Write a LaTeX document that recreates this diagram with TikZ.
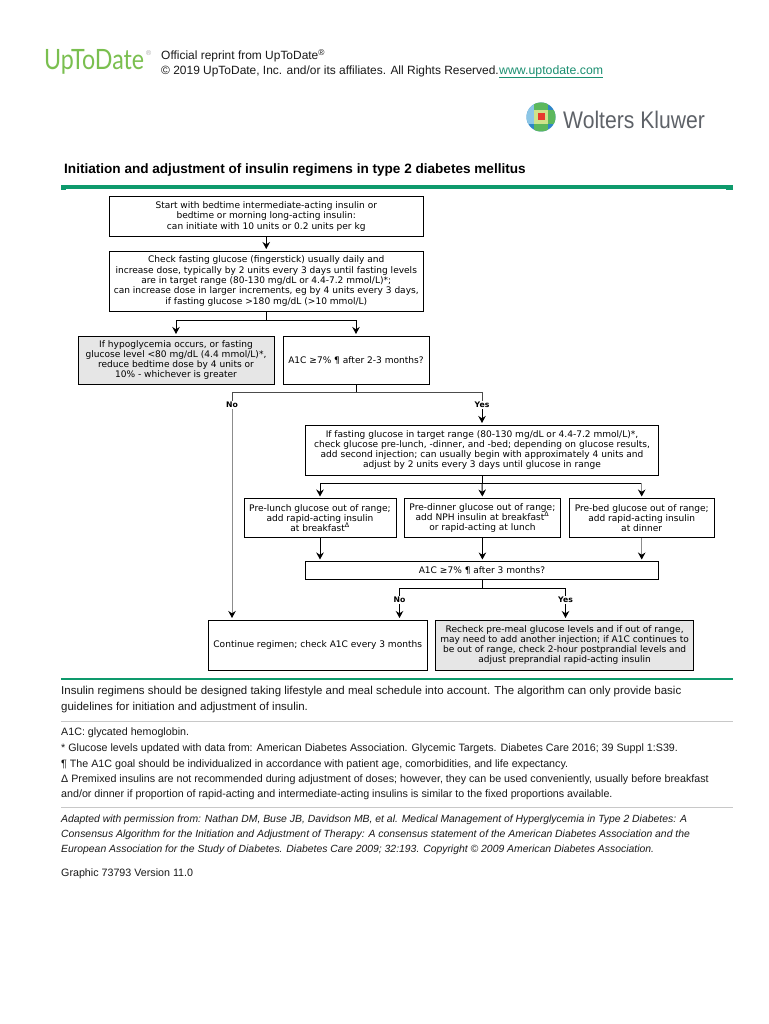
\documentclass[tikz,border=0pt]{standalone}
\usepackage{graphicx}
\usepackage{fontspec}
\setmainfont{Liberation Sans}
\newfontfamily\flowfont{DejaVu Sans}
\newfontfamily\logofont{Lato}
\usetikzlibrary{arrows.meta,calc}
\definecolor{utdgreen}{HTML}{0E9A6C}
\definecolor{logogreen}{HTML}{7ABF4F}
\definecolor{linkgreen}{HTML}{1A8F70}
\definecolor{boxgray}{HTML}{E6E6E6}
\definecolor{rulegray}{HTML}{C8C8C8}
\definecolor{wkgray}{HTML}{5E6268}
\definecolor{wkblue}{HTML}{2F86C6}
\definecolor{wksky}{HTML}{8CC6E6}
\definecolor{wkgreen}{HTML}{5CB85C}
\definecolor{wklime}{HTML}{CFE38A}
\definecolor{wkred}{HTML}{E8392E}
\newcommand{\deltamark}{\smash{\textsuperscript{Δ}}}
\tikzset{
  flowbox/.style={draw=black,line width=1pt,fill=white,align=center,inner sep=0pt,text=black,font=\flowfont\fontsize{9.05}{10.3}\selectfont},
  graybox/.style={flowbox,fill=boxgray},
  flowlabel/.style={inner sep=1pt,font=\flowfont\bfseries\fontsize{7.7}{9}\selectfont},
  conn/.style={draw=black,line width=1pt},
  arrowconn/.style={conn,-{Stealth[black,length=7pt,width=7.5pt]},shorten >=1.5pt},
  grayarrow/.style={arrowconn,draw=gray!90},
  bodytext/.style={anchor=west,inner sep=0pt,text=black!90,font=\fontsize{10.7}{12}\selectfont},
  leadtext/.style={anchor=west,inner sep=0pt,text=black!90,font=\fontsize{11.47}{13}\selectfont},
  sourcetext/.style={anchor=west,inner sep=0pt,text=black!90,font=\itshape\fontsize{10.4}{12}\selectfont},
  headtext/.style={anchor=west,inner sep=0pt,text=black!90,font=\fontsize{11.95}{13}\selectfont},
}
\begin{document}
\begin{tikzpicture}[x=1pt,y=-1pt]
\useasboundingbox (0,0) rectangle (768,1024);
\fill[white] (0,0) rectangle (768,1024);
% header
\node[anchor=west,inner sep=0pt,text=logogreen,font=\logofont\fontsize{28}{30}\selectfont] (logo) at (44,62) {\scalebox{0.83}[1]{UpToDate}};
\node[anchor=west,inner sep=0pt,text=gray!70,font=\fontsize{7}{8}\selectfont] (logor) at (146,53) {®};
\node[headtext] (off) at (161,56) {Official reprint from UpToDate\textsuperscript{®}};
\node[headtext] (copy) at (161,71) {© 2019 UpToDate, Inc. and/or its affiliates. All Rights Reserved.};
\node[headtext,text=linkgreen,font=\fontsize{12.3}{13}\selectfont] (link) at (499,71) {www.uptodate.com};
\draw[linkgreen,line width=0.8pt] ($(link.south west)+(0,0.5)$) -- ($(link.south east)+(0,0.5)$);
% WK logo
\begin{scope}
\clip (541,117) circle (14.5);
\fill[wkblue] (526,102) rectangle (556,132);
\fill[wksky] (526,102) rectangle (534,110);
\fill[wksky] (526,110) rectangle (534,124);
\fill[wkgreen] (534,102) rectangle (548,110);
\fill[wkgreen] (548,110) rectangle (556,124);
\fill[wkgreen] (534,124) rectangle (548,132);
\fill[wklime] (534,110) rectangle (548,124);
\fill[wkred] (537.5,113) rectangle (544.5,120.5);
\end{scope}
\node[anchor=west,inner sep=0pt,text=wkgray,font=\fontsize{24}{26}\selectfont] (wk) at (563,120) {\scalebox{0.88}[1]{Wolters Kluwer}};
% title
\node[anchor=west,inner sep=0pt,text=black,font=\bfseries\fontsize{13.57}{15}\selectfont] (title) at (64,170) {Initiation and adjustment of insulin regimens in type 2 diabetes mellitus};
\fill[utdgreen] (61,185.5) rectangle (733,188.7);
\fill[utdgreen] (61,185) rectangle (66,190);
\fill[utdgreen] (726,185) rectangle (733,190);
% boxes
\node[flowbox,minimum width=313.5pt,minimum height=39pt] (b1) at (266.25,216.5) {Start with bedtime intermediate-acting insulin or\\bedtime or morning long-acting insulin:\\can initiate with 10 units or 0.2 units per kg};
\node[flowbox,minimum width=313.5pt,minimum height=60pt] (b2) at (266.25,281) {Check fasting glucose (fingerstick) usually daily and\\increase dose, typically by 2 units every 3 days until fasting levels\\are in target range (80-130 mg/dL or 4.4-7.2 mmol/L)*;\\can increase dose in larger increments, eg by 4 units every 3 days,\\if fasting glucose >180 mg/dL (>10 mmol/L)};
\node[graybox,minimum width=196pt,minimum height=48pt] (b3) at (176,360) {If hypoglycemia occurs, or fasting\\glucose level <80 mg/dL (4.4 mmol/L)*,\\reduce bedtime dose by 4 units or\\10\% - whichever is greater};
\node[flowbox,minimum width=146pt,minimum height=48pt] (b4) at (356,360) {A1C ≥7\% ¶ after 2-3 months?};
\node[flowbox,minimum width=353pt,minimum height=50pt] (b5) at (482,450) {If fasting glucose in target range (80-130 mg/dL or 4.4-7.2 mmol/L)*,\\check glucose pre-lunch, -dinner, and -bed; depending on glucose results,\\add second injection; can usually begin with approximately 4 units and\\adjust by 2 units every 3 days until glucose in range};
\node[flowbox,minimum width=152pt,minimum height=39pt] (b6) at (320,518) {Pre-lunch glucose out of range;\\add rapid-acting insulin\\at breakfast\deltamark};
\node[flowbox,minimum width=156pt,minimum height=39pt] (b7) at (482.4,518) {Pre-dinner glucose out of range;\\add NPH insulin at breakfast\deltamark\\or rapid-acting at lunch};
\node[flowbox,minimum width=145pt,minimum height=39pt] (b8) at (641.7,518) {Pre-bed glucose out of range;\\add rapid-acting insulin\\at dinner};
\node[flowbox,minimum width=353pt,minimum height=18pt] (b9) at (482,570.5) {A1C ≥7\% ¶ after 3 months?};
\node[flowbox,minimum width=218.5pt,minimum height=50pt] (b10) at (317.75,645) {Continue regimen; check A1C every 3 months};
\node[graybox,minimum width=258pt,minimum height=50pt] (b11) at (564.6,645) {Recheck pre-meal glucose levels and if out of range,\\may need to add another injection; if A1C continues to\\be out of range, check 2-hour postprandial levels and\\adjust preprandial rapid-acting insulin};
% labels
\node[flowlabel] (no1) at (232,405) {No};
\node[flowlabel] (yes1) at (482,405) {Yes};
\node[flowlabel] (no2) at (399.5,600) {No};
\node[flowlabel] (yes2) at (565.5,600) {Yes};
% junctions
\coordinate (j2) at (266.25,320);
\coordinate (j4) at (356,392);
\coordinate (j5) at (482,483.3);
\coordinate (j9) at (482,588.3);
% connectors
\draw[arrowconn] (b1.south) -- (b2.north);
\draw[conn] (b2.south) -- (j2);
\draw[arrowconn] (j2) -| (b3.north);
\draw[arrowconn] (j2) -| (b4.north);
\draw[conn] (b4.south) -- (j4);
\draw[conn,draw=black!70] (j4) -| (no1.north);
\draw[conn,draw=black!70] (j4) -| (yes1.north);
\draw[grayarrow] (no1.south) -- (no1.south |- b10.north);
\draw[arrowconn] (yes1.south) -- (yes1.south |- b5.north);
\draw[conn] (b5.south) -- (j5);
\draw[arrowconn] (j5) -| (b6.north);
\draw[arrowconn] (j5) -- (b7.north);
\draw[conn] (j5) -- (j5 -| b8.north);
\draw[grayarrow] (j5 -| b8.north) -- (b8.north);
\draw[arrowconn] (b6.south) -- (b6.south |- b9.north);
\draw[arrowconn] (b7.south) -- (b7.south |- b9.north);
\draw[grayarrow] (b8.south) -- (b8.south |- b9.north);
\draw[conn] (b9.south) -- (j9);
\draw[conn] (j9) -| (no2.north);
\draw[conn] (j9) -| (yes2.north);
\draw[arrowconn] (no2.south) -- (no2.south |- b10.north);
\draw[arrowconn] (yes2.south) -- (yes2.south |- b11.north);
% lower rule
\fill[utdgreen] (61,678.4) rectangle (733,679.6);
\fill[utdgreen] (61,678) rectangle (67,680);
\fill[utdgreen] (726,678) rectangle (733,680);
% notes
\node[leadtext] (n1) at (61,692) {Insulin regimens should be designed taking lifestyle and meal schedule into account. The algorithm can only provide basic};
\node[leadtext] (n2) at (61,708) {guidelines for initiation and adjustment of insulin.};
\fill[rulegray] (61,721.3) rectangle (733,722);
\node[bodytext] (n3) at (61,733) {A1C: glycated hemoglobin.};
\node[bodytext] (n4) at (61,749) {* Glucose levels updated with data from: American Diabetes Association. Glycemic Targets. Diabetes Care 2016; 39 Suppl 1:S39.};
\node[bodytext] (n5) at (61,765) {¶ The A1C goal should be individualized in accordance with patient age, comorbidities, and life expectancy.};
\node[bodytext] (n6) at (61,780) {Δ Premixed insulins are not recommended during adjustment of doses; however, they can be used conveniently, usually before breakfast};
\node[bodytext] (n7) at (61,795) {and/or dinner if proportion of rapid-acting and intermediate-acting insulins is similar to the fixed proportions available.};
\fill[rulegray] (61,806.8) rectangle (733,807.5);
\node[sourcetext] (n8) at (61,820) {Adapted with permission from: Nathan DM, Buse JB, Davidson MB, et al. Medical Management of Hyperglycemia in Type 2 Diabetes: A};
\node[sourcetext] (n9) at (61,835) {Consensus Algorithm for the Initiation and Adjustment of Therapy: A consensus statement of the American Diabetes Association and the};
\node[sourcetext] (n10) at (61,850) {European Association for the Study of Diabetes. Diabetes Care 2009; 32:193. Copyright © 2009 American Diabetes Association.};
\node[bodytext] (n11) at (61,874) {Graphic 73793 Version 11.0};
\end{tikzpicture}
\end{document}
